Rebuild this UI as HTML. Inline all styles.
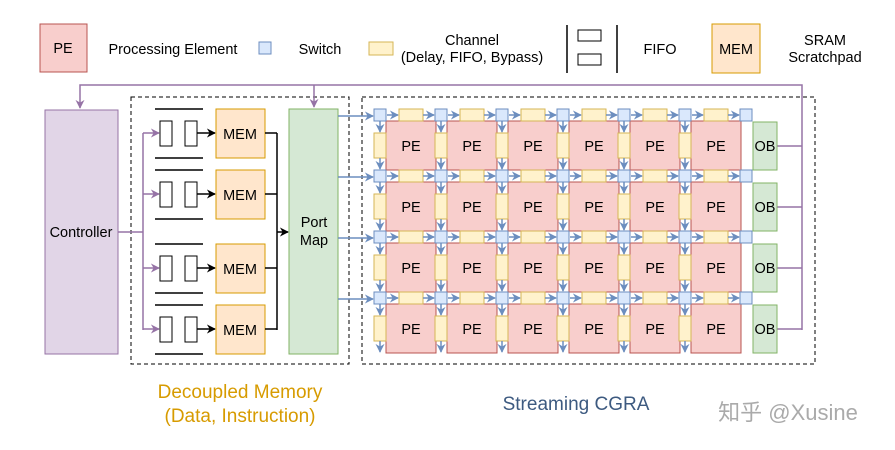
<!DOCTYPE html>
<html><head><meta charset="utf-8"><style>
body{margin:0;background:#fff;width:895px;height:450px;overflow:hidden}
svg{display:block;font-family:"Liberation Sans","Noto Sans CJK SC",sans-serif}
</style></head><body>
<svg id="s" width="895" height="450" viewBox="0 0 895 450" xmlns="http://www.w3.org/2000/svg">
<defs>
<marker id="ab" viewBox="0 0 10 10" refX="9" refY="5" markerWidth="6" markerHeight="6" orient="auto"><path d="M0,0L10,5L0,10L3,5z" fill="#6c8ebf"/></marker>
<marker id="ak" viewBox="0 0 10 10" refX="9" refY="5" markerWidth="6" markerHeight="6" orient="auto"><path d="M0,0L10,5L0,10L3,5z" fill="#000"/></marker>
<marker id="ap" viewBox="0 0 10 10" refX="9" refY="5" markerWidth="6" markerHeight="6" orient="auto"><path d="M0,0L10,5L0,10L3,5z" fill="#9673a6"/></marker>
</defs>
<rect x="40" y="24" width="47" height="48" fill="#f8cecc" stroke="#b85450"/>
<text x="63" y="53" font-size="14.5" text-anchor="middle">PE</text>
<text x="173" y="54" font-size="14.5" text-anchor="middle">Processing Element</text>
<rect x="259" y="42" width="12" height="12" fill="#dae8fc" stroke="#6c8ebf"/>
<text x="320" y="54" font-size="14.5" text-anchor="middle">Switch</text>
<rect x="369" y="42" width="24" height="13" fill="#fff2cc" stroke="#d6b656"/>
<text x="472" y="45" font-size="14.5" text-anchor="middle">Channel</text>
<text x="472" y="62" font-size="14.5" text-anchor="middle">(Delay, FIFO, Bypass)</text>
<line x1="567" y1="25" x2="567" y2="73" stroke="#000" stroke-width="1.5"/>
<line x1="617" y1="25" x2="617" y2="73" stroke="#000" stroke-width="1.5"/>
<rect x="578" y="30" width="23" height="11" fill="#fff" stroke="#000"/>
<rect x="578" y="54" width="23" height="11" fill="#fff" stroke="#000"/>
<text x="660" y="54" font-size="14.5" text-anchor="middle">FIFO</text>
<rect x="712" y="24" width="48" height="49" fill="#ffe6cc" stroke="#d79b00"/>
<text x="736" y="54" font-size="14.5" text-anchor="middle">MEM</text>
<text x="825" y="45" font-size="14.5" text-anchor="middle">SRAM</text>
<text x="825" y="62" font-size="14.5" text-anchor="middle">Scratchpad</text>

<rect x="131" y="97" width="218" height="267" fill="none" stroke="#000" stroke-dasharray="4,3"/>
<rect x="362" y="97" width="453" height="267" fill="none" stroke="#000" stroke-dasharray="4,3"/>

<rect x="45" y="110" width="73" height="244" fill="#e1d5e7" stroke="#9673a6"/>
<text x="81" y="237" font-size="14.5" text-anchor="middle">Controller</text>
<polyline points="802,330 802,85 80,85 80,108" fill="none" stroke="#9673a6" stroke-width="1.5" marker-end="url(#ap)"/>
<line x1="314" y1="85" x2="314" y2="107" stroke="#9673a6" stroke-width="1.5" marker-end="url(#ap)"/>
<line x1="118" y1="232" x2="143" y2="232" stroke="#9673a6" stroke-width="1.5"/>
<line x1="143" y1="133" x2="143" y2="330" stroke="#9673a6" stroke-width="1.5"/>

<rect x="289" y="109" width="49" height="245" fill="#d5e8d4" stroke="#82b366"/>
<text x="314" y="227" font-size="14.5" text-anchor="middle">Port</text>
<text x="314" y="245" font-size="14.5" text-anchor="middle">Map</text>
<line x1="277" y1="133" x2="277" y2="330" stroke="#000" stroke-width="1.5"/>
<line x1="277" y1="232" x2="288" y2="232" stroke="#000" stroke-width="1.5" marker-end="url(#ak)"/>

<g id="g"></g>
<text x="240" y="398" font-size="19" fill="#d79b00" text-anchor="middle">Decoupled Memory</text>
<text x="240" y="422" font-size="19" fill="#d79b00" text-anchor="middle">(Data, Instruction)</text>
<text x="576" y="410" font-size="19" fill="#3d5a80" text-anchor="middle">Streaming CGRA</text>
<text x="788" y="420" font-size="22" fill="#aaa" text-anchor="middle">知乎 @Xusine</text>
</svg>
<script>
var g=document.getElementById('g'),h='';
function r(x,y,w,hh,f,s){h+='<rect x="'+x+'" y="'+y+'" width="'+w+'" height="'+hh+'" fill="'+f+'" stroke="'+s+'"/>';}
function l(x1,y1,x2,y2,c,m){h+='<line x1="'+x1+'" y1="'+y1+'" x2="'+x2+'" y2="'+y2+'" stroke="'+c+'" stroke-width="1.5"'+(m?' marker-end="url(#'+m+')"':'')+'/>';}
function t(x,y,s){h+='<text x="'+x+'" y="'+y+'" font-size="14.5" text-anchor="middle">'+s+'</text>';}
var mys=[109,170,244,305];
mys.forEach(function(y){
 l(155,y,203,y,'#000');l(155,y+49,203,y+49,'#000');
 r(160,y+12,12,25,'#fff','#000');r(185,y+12,12,25,'#fff','#000');
 l(143,y+24,159,y+24,'#9673a6','ap');
 l(197,y+24,215,y+24,'#000','ak');
 r(216,y,49,49,'#ffe6cc','#d79b00');t(240,y+30,'MEM');
 l(265,y+24,277,y+24,'#000');
});
var P=61;
for(var j=0;j<4;j++){
 var sy=109+P*j;
 l(338,sy+7,373,sy+7,'#6c8ebf','ab');
 l(776,sy+37,802,sy+37,'#9673a6');
 r(753,sy+13,24,48,'#d5e8d4','#82b366');t(765,sy+42,'OB');
 for(var i=0;i<6;i++){
  var sx=374+P*i;
  r(sx+12,sy+12,50,49,'#f8cecc','#b85450');t(sx+37,sy+42,'PE');
 }
 for(var i=0;i<7;i++){
  var sx=374+P*i;
  if(i<6){
   l(sx+13,sy+6,sx+24,sy+6,'#6c8ebf','ab');
   r(sx+25,sy,24,12,'#fff2cc','#d6b656');
   l(sx+49,sy+6,sx+60,sy+6,'#6c8ebf','ab');
   l(sx+6,sy+12,sx+6,sy+23,'#6c8ebf','ab');
   r(sx,sy+24,12,25,'#fff2cc','#d6b656');
   l(sx+6,sy+49,sx+6,sy+60,'#6c8ebf','ab');
  }
  r(sx,sy,12,12,'#dae8fc','#6c8ebf');
 }
}
g.innerHTML=h;
</script>
</body></html>
